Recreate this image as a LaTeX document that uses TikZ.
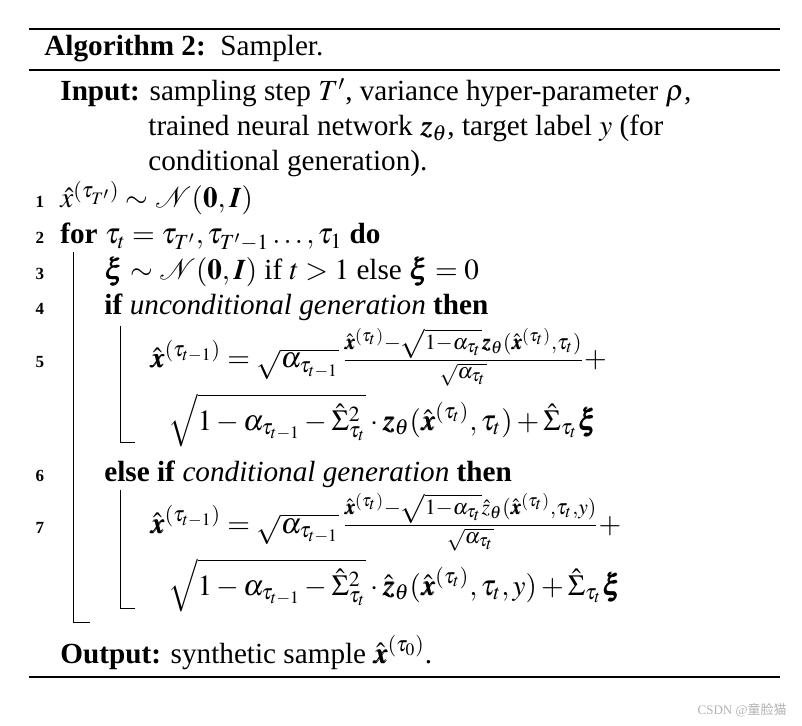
\documentclass[tikz,border=0pt]{standalone}
\usepackage{mathptmx}
\usepackage{amsmath}
\usepackage{bm}
\usepackage{fontspec}
\setmainfont{Liberation Serif}
\newfontfamily\cjk{Noto Sans CJK SC}
\begin{document}
\begin{tikzpicture}[x=0.5pt,y=-0.5pt,
  txt/.style={anchor=base west,inner sep=0pt,font=\fontsize{14.6}{17}\selectfont},
  num/.style={anchor=base,inner sep=0pt,font=\fontsize{8.5}{10}\selectfont\bfseries},
  rule/.style={line width=0.8pt},
  bar/.style={line width=0.5pt}]
\useasboundingbox (0,0) rectangle (802,726);
\draw[rule] (29,29) -- (780,29);
\draw[rule] (29,70) -- (780,70);
\draw[rule] (29,677) -- (780,677);
\node[txt] (title) at (44,56) {\textbf{Algorithm 2:}\ \ Sampler.};
\node[txt] (in1) at (60,101) {\textbf{Input:} sampling step $T'$, variance hyper-parameter $\rho$,};
\node[txt] (in2) at (148,136) {trained neural network $\bm{z}_\theta$, target label $y$ (for};
\node[txt] (in3) at (148,171) {conditional generation).};
\node[num] (n1) at (40,208) {1};
\node[txt] (l1) at (60,208) {$\hat{x}^{(\tau_{T'})}\sim\mathcal{N}(\mathbf{0},\bm{I})$};
\node[num] (n2) at (40,244) {2};
\node[txt] (l2) at (60,244) {\textbf{for} $\tau_t=\tau_{T'},\tau_{T'-1}\ldots,\tau_1$ \textbf{do}};
\node[num] (n3) at (40,280) {3};
\node[txt] (l3) at (104,280) {$\bm{\xi}\sim\mathcal{N}(\mathbf{0},\bm{I})$ if $t>1$ else $\bm{\xi}=0$};
\node[num] (n4) at (40,315) {4};
\node[txt] (l4) at (104,315) {\textbf{if} \textit{unconditional generation} \textbf{then}};
\node[num] (n5) at (40,368) {5};
\node[txt] (l5a) at (150,368) {$\hat{\bm{x}}^{(\tau_{t-1})}=\sqrt{\alpha_{\tau_{t-1}}}\,\frac{\hat{\bm{x}}^{(\tau_t)}-\sqrt{1-\alpha_{\tau_t}}\bm{z}_\theta(\hat{\bm{x}}^{(\tau_t)},\tau_t)}{\sqrt{\alpha_{\tau_t}}}+$};
\node[txt] (l5b) at (168,430) {$\sqrt{1-\alpha_{\tau_{t-1}}-\hat{\Sigma}^2_{\tau_t}}\cdot\bm{z}_\theta(\hat{\bm{x}}^{(\tau_t)},\tau_t)+\hat{\Sigma}_{\tau_t}\bm{\xi}$};
\node[num] (n6) at (40,481) {6};
\node[txt] (l6) at (104,481) {\textbf{else if} \textit{conditional generation} \textbf{then}};
\node[num] (n7) at (40,533) {7};
\node[txt] (l7a) at (150,533) {$\hat{\bm{x}}^{(\tau_{t-1})}=\sqrt{\alpha_{\tau_{t-1}}}\,\frac{\hat{\bm{x}}^{(\tau_t)}-\sqrt{1-\alpha_{\tau_t}}\hat{z}_\theta(\hat{\bm{x}}^{(\tau_t)},\tau_t,y)}{\sqrt{\alpha_{\tau_t}}}+$};
\node[txt] (l7b) at (168,595) {$\sqrt{1-\alpha_{\tau_{t-1}}-\hat{\Sigma}^2_{\tau_t}}\cdot\hat{\bm{z}}_\theta(\hat{\bm{x}}^{(\tau_t)},\tau_t,y)+\hat{\Sigma}_{\tau_t}\bm{\xi}$};
\node[txt] (out) at (60,663) {\textbf{Output:} synthetic sample $\hat{\bm{x}}^{(\tau_0)}$.};
\draw[bar] (73,252) -- (73,622) -- (90,622);
\draw[bar] (120,326) -- (120,443) -- (135,443);
\draw[bar] (120,490) -- (120,608) -- (135,608);
\node[anchor=east,inner sep=0pt,text=gray!60,font=\fontsize{6.5}{8}\selectfont] (wm) at (787,710) {CSDN @{\cjk 童脸猫}};
\end{tikzpicture}
\end{document}
